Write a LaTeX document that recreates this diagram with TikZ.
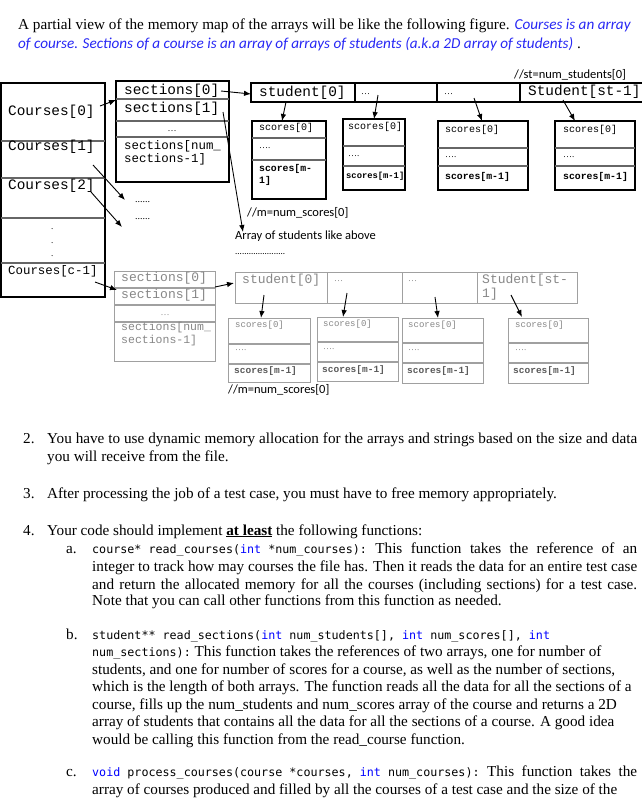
\documentclass[tikz,border=0pt]{standalone}
\usepackage{fontspec}
\setmainfont{Liberation Serif}
\newfontfamily\cour{Liberation Mono}
\newfontfamily\cons{DejaVu Sans Mono}
\newfontfamily\cali{Carlito}
\usetikzlibrary{arrows.meta}
\definecolor{hblue}{RGB}{40,40,245}
\definecolor{kwblue}{RGB}{0,0,255}
\definecolor{faint}{RGB}{160,160,160}
\definecolor{fainttext}{RGB}{135,135,135}
\definecolor{faintdark}{RGB}{90,90,90}
\newcommand\kwa[1]{{\color{kwblue}#1}}
\newcommand\codeb[1]{\mbox{\cons\fontsize{11.7}{13}\selectfont #1}}
\begin{document}
\begin{tikzpicture}[x=1pt,y=-1pt,
  body/.style={font=\fontsize{15.2}{18}\selectfont, inner sep=0pt, anchor=base west},
  mono/.style={font=\cour\fontsize{14.4}{16}\selectfont, inner sep=0pt, anchor=west},
  monos/.style={font=\cour\fontsize{12.4}{14}\selectfont, inner sep=0pt, anchor=west},
  sc/.style={font=\cour\fontsize{10}{12}\selectfont, inner sep=0pt, anchor=west},
  scb/.style={font=\cour\bfseries\fontsize{9.8}{12}\selectfont, inner sep=0pt, anchor=west},
  ell/.style={font=\fontsize{9}{10}\selectfont, inner sep=0pt, anchor=west},
  dotrow/.style={font=\fontsize{10}{11}\selectfont, inner sep=0pt, anchor=west},
  note/.style={font=\cali\fontsize{12.5}{14}\selectfont, inner sep=0pt, anchor=west},
  outer/.style={draw=black, line width=1.2pt},
  div/.style={draw=black!60, line width=1.5pt},
  fouter/.style={draw=faint, line width=1pt},
  fdiv/.style={draw=faint, line width=1.2pt},
  fmono/.style={font=\cour\fontsize{13}{15}\selectfont, inner sep=0pt, anchor=west, text=fainttext},
  fmonos/.style={font=\cour\fontsize{11.5}{13}\selectfont, inner sep=0pt, anchor=west, text=fainttext},
  fsc/.style={font=\cour\fontsize{9}{11}\selectfont, inner sep=0pt, anchor=west, text=fainttext},
  fscb/.style={font=\cour\bfseries\fontsize{9.5}{11}\selectfont, inner sep=0pt, anchor=west, text=faintdark},
  arr/.style={-{Latex[length=7pt,width=5.5pt]}, line width=0.9pt},
]
\useasboundingbox (0,0) rectangle (641,812);
\fill[white] (0,0) rectangle (641,812);

% ---------------- header text
\node[body] (h1) at (18,29) {A partial view of the memory map of the arrays will be like the following figure. {\cali\itshape\color{hblue}Courses is an array}};
\node[body] (h2) at (18,48) {{\cali\itshape\color{hblue}of course. Sections of a course is an array of arrays of students (a.k.a 2D array of students)} .};

% ---------------- top diagram
\draw[outer] (1,83) rectangle (105,297);
\draw[div] (1,141) -- (105,141);
\draw[div] (1,178) -- (105,178);
\draw[div] (1,218) -- (105,218);
\draw[div] (1,263) -- (105,263);
\node[mono] (c0) at (8,112) {Courses[0]};
\node[mono] (c1) at (8,147) {Courses[1]};
\node[mono] (c2) at (8,186) {Courses[2]};
\node[ell] (cd1) at (51,229) {.};
\node[ell] (cd2) at (51,243) {.};
\node[ell] (cd3) at (51,256) {.};
\node[monos] (cc) at (8,271) {Courses[c-1]};

\draw[outer] (116,81) rectangle (229,182);
\draw[div] (116,99) -- (229,99);
\draw[div] (116,121) -- (229,121);
\draw[div] (116,137) -- (229,137);
\node[mono] (s0) at (124,91) {sections[0]};
\node[mono] (s1) at (124,109) {sections[1]};
\node[ell, anchor=center] (sd) at (172,131) {\dots};
\node[monos] (sn1) at (124,146) {sections[num\_};
\node[monos] (sn2) at (124,159) {sections-1]};

\draw[outer] (251,83) rectangle (645,102);
\draw[outer] (355,83) -- (355,102);
\draw[outer] (437,83) -- (437,102);
\draw[outer] (520,83) -- (520,102);
\node[mono] (st0) at (259,93) {student[0]};
\node[ell] (std1) at (361,94) {\dots};
\node[ell] (std2) at (444,94) {\dots};
\node[mono] (stl) at (528,92) {Student[st-1]};
\node[note] (stnote) at (514,75) {//st=num\_students[0]};

\draw[outer] (252,121) rectangle (326,199);
\draw[div] (252,138) -- (326,138);
\draw[div] (252,160) -- (326,160);
\node[sc] (b1a) at (259,128) {scores[0]};
\node[ell] (b1b) at (259,148) {\dots.};
\node[scb] (b1c) at (259,169) {scores[m-};
\node[scb] (b1d) at (259,181) {1]};

\draw[outer] (343,119) rectangle (405,190);
\draw[div] (343,146) -- (405,146);
\draw[div] (343,166) -- (405,166);
\node[sc] (b2a) at (348,127) {scores[0]};
\node[ell] (b2b) at (348,156) {\dots.};
\node[scb, font=\cour\bfseries\fontsize{8.8}{11}\selectfont] (b2c) at (346,176) {scores[m-1]};

\draw[outer] (438,121) rectangle (528,190);
\draw[div] (438,148) -- (528,148);
\draw[div] (438,166) -- (528,166);
\node[sc] (b3a) at (445,130) {scores[0]};
\node[ell] (b3b) at (445,157) {\dots.};
\node[scb] (b3c) at (445,177) {scores[m-1]};

\draw[outer] (555,121) rectangle (635,190);
\draw[div] (555,148) -- (635,148);
\draw[div] (555,166) -- (635,166);
\node[sc] (b4a) at (563,130) {scores[0]};
\node[ell] (b4b) at (563,157) {\dots.};
\node[scb] (b4c) at (563,177) {scores[m-1]};

\node[dotrow] (dots1) at (135,202) {......};
\node[dotrow] (dots2) at (135,219) {......};
\node[note] (mnote) at (247,213) {//m=num\_scores[0]};
\node[note] (arrnote) at (235,236) {Array of students like above};
\node[ell, font=\cali\fontsize{9}{10}\selectfont] (arrdots) at (235,254) {......................};

\coordinate (p1) at (100,106); \coordinate (q1) at (116,100);
\draw[arr] (p1) -- (q1);
\coordinate (p2) at (221,91); \coordinate (q2) at (251,94);
\draw[arr] (p2) -- (q2);
\coordinate (p3) at (286,102); \coordinate (q3) at (282,121);
\draw[arr] (p3) -- (q3);
\coordinate (p4) at (378,95); \coordinate (q4) at (374,119);
\draw[arr] (p4) -- (q4);
\coordinate (p5) at (474,98); \coordinate (q5) at (482,121);
\draw[arr] (p5) -- (q5);
\coordinate (p6) at (563,100); \coordinate (q6) at (575,121);
\draw[arr] (p6) -- (q6);
\coordinate (p7) at (93,165); \coordinate (q7) at (125,200);
\draw[arr] (p7) -- (q7);
\coordinate (p8) at (91,192); \coordinate (q8) at (122,227);
\draw[arr] (p8) -- (q8);
\coordinate (p9) at (223,112); \coordinate (q9) at (243,232);
\draw[arr] (p9) -- (q9);

% ---------------- bottom (faint) diagram
\draw[fouter] (114,271) rectangle (215,361);
\draw[fdiv] (114,288) -- (215,288);
\draw[fdiv] (114,305) -- (215,305);
\draw[fdiv] (114,322) -- (215,322);
\node[fmono] (fs0) at (121,278) {sections[0]};
\node[fmono] (fs1) at (121,295) {sections[1]};
\node[ell, anchor=center, text=fainttext] (fsd) at (165,315) {\dots};
\node[fmonos] (fsn1) at (121,328) {sections[num\_};
\node[fmonos] (fsn2) at (121,341) {sections-1]};

\draw[fouter] (235,272) rectangle (577,303);
\draw[fouter] (327,272) -- (327,303);
\draw[fouter] (402,272) -- (402,303);
\draw[fouter] (477,272) -- (477,303);
\node[fmono] (fst0) at (242,280) {student[0]};
\node[ell, text=fainttext] (fstd1) at (334,281) {\dots};
\node[ell, text=fainttext] (fstd2) at (408,281) {\dots};
\node[fmono] (fstl1) at (482,280) {Student[st-};
\node[fmono] (fstl2) at (482,294) {1]};

\draw[fouter] (228,318) rectangle (310,382);
\draw[fdiv] (228,344) -- (310,344);
\draw[fdiv] (228,364) -- (310,364);
\node[fsc] (fb1a) at (235,325) {scores[0]};
\node[ell, text=fainttext] (fb1b) at (235,350) {\dots.};
\node[fscb] (fb1c) at (234,371) {scores[m-1]};

\draw[fouter] (317,317) rectangle (398,381);
\draw[fdiv] (317,342) -- (398,342);
\draw[fdiv] (317,362) -- (398,362);
\node[fsc] (fb2a) at (323,324) {scores[0]};
\node[ell, text=fainttext] (fb2b) at (323,349) {\dots.};
\node[fscb] (fb2c) at (322,370) {scores[m-1]};

\draw[fouter] (402,318) rectangle (483,383);
\draw[fdiv] (402,343) -- (483,343);
\draw[fdiv] (402,363) -- (483,363);
\node[fsc] (fb3a) at (408,325) {scores[0]};
\node[ell, text=fainttext] (fb3b) at (408,350) {\dots.};
\node[fscb] (fb3c) at (407,371) {scores[m-1]};

\draw[fouter] (508,318) rectangle (588,383);
\draw[fdiv] (508,343) -- (588,343);
\draw[fdiv] (508,363) -- (588,363);
\node[fsc] (fb4a) at (515,325) {scores[0]};
\node[ell, text=fainttext] (fb4b) at (515,350) {\dots.};
\node[fscb] (fb4c) at (513,371) {scores[m-1]};

\node[note] (fmnote) at (228,390) {//m=num\_scores[0]};

\coordinate (r1) at (95,282); \coordinate (t1) at (117,290);
\draw[arr] (r1) -- (t1);
\coordinate (r2) at (215,287); \coordinate (t2) at (234,283);
\draw[arr] (r2) -- (t2);
\coordinate (r3) at (264,295); \coordinate (t3) at (261,318);
\draw[arr] (r3) -- (t3);
\coordinate (r4) at (347,293); \coordinate (t4) at (343,317);
\draw[arr] (r4) -- (t4);
\coordinate (r5) at (435,297); \coordinate (t5) at (438,318);
\draw[arr] (r5) -- (t5);
\coordinate (r6) at (511,295); \coordinate (t6) at (522,317);
\draw[arr] (r6) -- (t6);

% ---------------- list text
\node[body] (n2) at (23,443) {2.};
\node[body] (l2a) at (47,443) {\makebox[590pt][s]{You have to use dynamic memory allocation for the arrays and strings based on the size and data}};
\node[body] (l2b) at (47,461) {you will receive from the file.};
\node[body] (n3) at (23,498) {3.};
\node[body] (l3a) at (47,498) {After processing the job of a test case, you must have to free memory appropriately.};
\node[body] (n4) at (23,535) {4.};
\node[body] (l4a) at (47,535) {Your code should implement \underline{\textbf{at least}} the following functions:};

\node[body] (na) at (66,553) {a.};
\node[body] (la1) at (92,553) {\makebox[545pt][s]{\codeb{course* read\_courses(\kwa{int} *num\_courses):}  This function takes the reference of an}};
\node[body] (la2) at (92,571) {\makebox[545pt][s]{integer to track how may courses the file has. Then it reads the data for an entire test case}};
\node[body] (la3) at (92,589) {\makebox[545pt][s]{and return the allocated memory for all the courses (including sections) for a test case.}};
\node[body] (la4) at (92,605) {Note that you can call other functions from this function as needed.};

\node[body] (nb) at (66,639) {b.};
\node[body] (lb1) at (92,639) {\codeb{student** read\_sections(\kwa{int} num\_students[], \kwa{int} num\_scores[], \kwa{int}}};
\node[body] (lb2) at (92,656) {\codeb{num\_sections):}  This function takes the references of two arrays, one for number of};
\node[body] (lb3) at (92,674) {students, and one for number of scores for a course, as well as the number of sections,};
\node[body] (lb4) at (92,691) {which is the length of both arrays. The function reads all the data for all the sections of a};
\node[body] (lb5) at (92,709) {course, fills up the num\_students and num\_scores array of the course and returns a 2D};
\node[body] (lb6) at (92,726) {array of students that contains all the data for all the sections of a course. A good idea};
\node[body] (lb7) at (92,744) {would be calling this function from the read\_course function.};

\node[body] (nc) at (66,776) {c.};
\node[body] (lc1) at (92,776) {\makebox[545pt][s]{\codeb{\kwa{void} process\_courses(course *courses, \kwa{int} num\_courses):}  This function takes the}};
\node[body] (lc2) at (92,794) {array of courses produced and filled by all the courses of a test case and the size of the};
\end{tikzpicture}
\end{document}
